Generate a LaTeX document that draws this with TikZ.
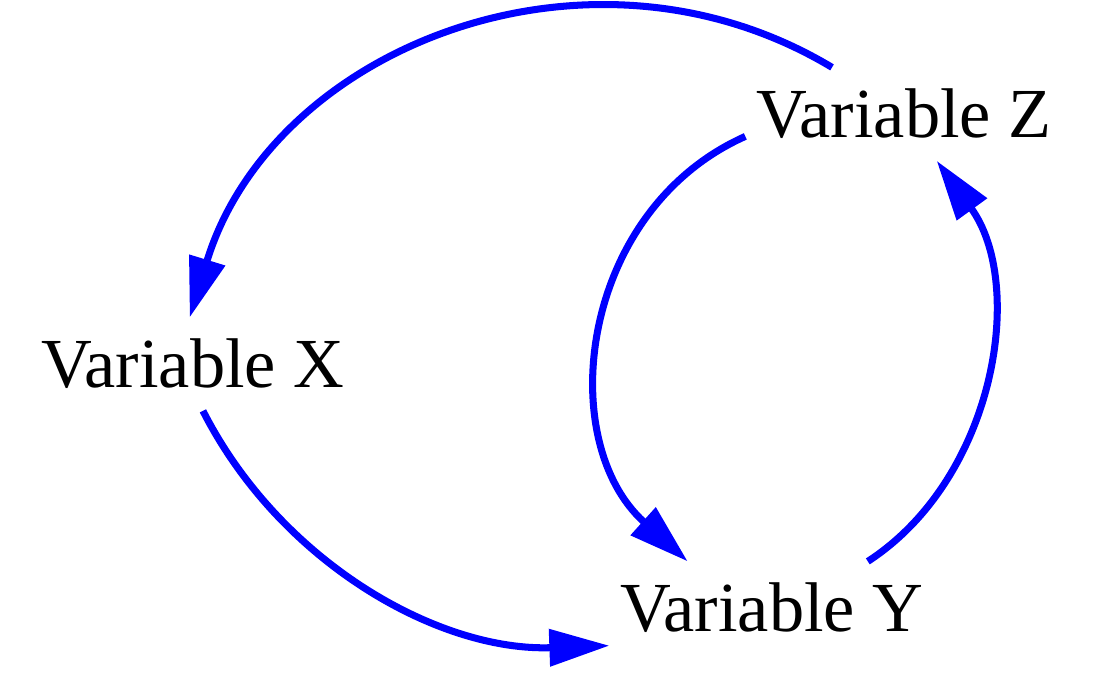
\documentclass[tikz,border=0pt]{standalone}
\usepackage{fontspec}
\setmainfont{Liberation Serif}
\usetikzlibrary{arrows.meta}

\begin{document}
\begin{tikzpicture}[x=0.01cm,y=0.01cm,
    var/.style={inner xsep=3pt,inner ysep=6pt,font=\fontsize{20}{24}\selectfont},
    causal/.style={blue,line width=2pt,-{Triangle[length=0.6cm,width=0.36cm]}}]
    \useasboundingbox (0,0) rectangle (1094,689);
    \node[var,anchor=base] (X) at (193,301) {Variable X};
    \node[var,anchor=base] (Y) at (772,57) {Variable Y};
    \node[var,anchor=base] (Z) at (904,551) {Variable Z};
    \draw[causal] (Z.147) to [out=149,in=73,looseness=1.05] (X.94);
    \draw[causal] (X.282) to [out=297,in=182,looseness=0.93] (Y.193);
    \draw[causal] (Z.188) to [out=204,in=138,looseness=1.08] (Y.151);
    \draw[causal] (Y.26) to [out=33,in=306,looseness=0.96] (Z.305);
\end{tikzpicture}
\end{document}
